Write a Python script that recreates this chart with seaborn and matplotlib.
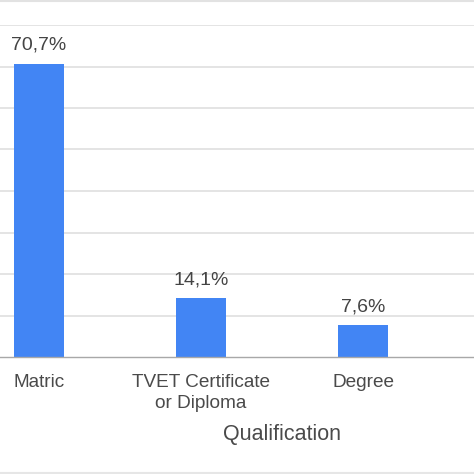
import matplotlib
matplotlib.use("Agg")
import matplotlib.pyplot as plt
import seaborn as sns
import pandas as pd

# data
qualifications = ["Matric", "TVET Certificate\nor Diploma", "Degree"]
shares = [70.7, 14.1, 7.6]
grid_ticks = [10, 20, 30, 40, 50, 60, 70, 80]

df = pd.DataFrame({"Qualification": qualifications, "Share": shares})

sns.set_theme(style="white")
plt.rcParams["font.family"] = ["Liberation Sans", "DejaVu Sans"]

fig = plt.figure(figsize=(4.74, 4.74), dpi=100)
# chart is cropped on the left/right like the source screenshot
ax = fig.add_axes([0.0, 117 / 474, 1.0, 332 / 474])

sns.barplot(data=df, x="Qualification", y="Share", color="#4285F4",
            width=0.31, linewidth=0, saturation=1, ax=ax)

ax.set_xlim(-39 / 162, 435 / 162)
ax.set_ylim(0, 80)
ax.set_yticks(grid_ticks)
ax.set_yticklabels([])
ax.grid(axis="y", color="#e2e2e2", linewidth=1.3)
ax.set_axisbelow(True)
for side in ["top", "left", "right"]:
    ax.spines[side].set_visible(False)
ax.spines["bottom"].set_color("#a8a8a8")
ax.spines["bottom"].set_linewidth(1.0)

ax.tick_params(axis="x", length=0, pad=12, labelsize=13.7, labelcolor="#4a4a4a")
ax.tick_params(axis="y", length=0)
for lbl in ax.get_xticklabels():
    lbl.set_linespacing(1.35)
ax.set_ylabel("")
ax.set_xlabel("Qualification", fontsize=15.5, color="#4a4a4a")
ax.xaxis.set_label_coords(282 / 474, -0.202)

labels = [f"{v:.1f}%".replace(".", ",") for v in shares]
ax.bar_label(ax.containers[0], labels=labels, padding=7, fontsize=14, color="#444444")

# thin frame lines at the top and bottom edge of the screenshot
fig.add_artist(plt.Line2D([0, 1], [0.998, 0.998], transform=fig.transFigure,
                          color="#e2e2e2", linewidth=1.5))
fig.add_artist(plt.Line2D([0, 1], [0.003, 0.003], transform=fig.transFigure,
                          color="#e6e6e6", linewidth=1.5))

fig.savefig("out.png", dpi=100)
